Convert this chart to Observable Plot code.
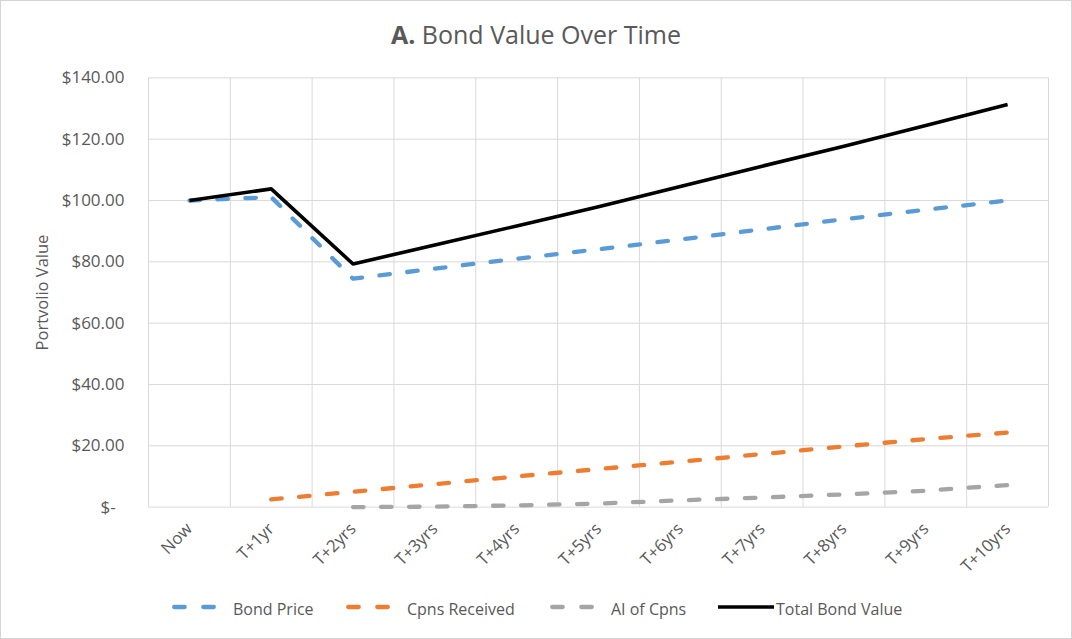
<!DOCTYPE html>
<html>
<head>
<meta charset="utf-8">
<script src="https://cdn.jsdelivr.net/npm/d3@7"></script>
<script src="https://cdn.jsdelivr.net/npm/@observablehq/plot@0.6"></script>
<style>
  body { margin: 0; background: #fff; }
  #wrap { position: relative; width: 1072px; height: 639px; font-family: "Open Sans", sans-serif; color: #595959; overflow: hidden; background: #fff; }
  #border { position: absolute; left: 0; top: 0; width: 1072px; height: 639px; box-sizing: border-box; border: 1px solid #d4d4d4; pointer-events: none; }
  #title { height: 60px; box-sizing: border-box; padding-top: 22px; font-size: 25px; line-height: 25px; text-align: center; white-space: nowrap; }
  #title b { font-weight: 700; }
  #chart svg { display: block; }
  #legend { position: relative; height: 54px; }
  .item { position: absolute; top: -3px; height: 54px; display: flex; align-items: center; font-size: 16px; white-space: nowrap; }
  .item svg { display: block; }
  .item span { line-height: 16px; }
</style>
</head>
<body>
<div id="wrap">
  <div id="title"><b>A.</b> Bond Value Over Time</div>
  <div id="chart"></div>
  <div id="legend"></div>
  <div id="border"></div>
</div>
<script>
// ---- data ----
const categories = ["Now", "T+1yr", "T+2yrs", "T+3yrs", "T+4yrs", "T+5yrs", "T+6yrs", "T+7yrs", "T+8yrs", "T+9yrs", "T+10yrs"];
const bondPrice    = [100, 101.1, 74.5, 77.8, 81.0, 84.1, 87.3, 90.6, 93.9, 97.0, 100.0];
const cpnsReceived = [null, 2.5, 5.0, 7.5, 10.0, 12.4, 14.8, 17.3, 19.8, 22.2, 24.3];
const aiOfCpns     = [null, null, 0.0, 0.15, 0.55, 1.15, 2.2, 3.1, 4.15, 5.35, 7.2];
const totalValue   = [100, 103.8, 79.3, 85.5, 91.7, 98.0, 104.6, 111.2, 117.7, 124.5, 131.3];
const seriesNames  = ["Bond Price", "Cpns Received", "AI of Cpns", "Total Bond Value"];
const yTicks = [0, 20, 40, 60, 80, 100, 120, 140];
const yLabel = "Portvolio Value";

// ---- styling ----
const colors = ["#5B9BD5", "#ED7D31", "#A5A5A5", "#000000"];
const dashed = [true, true, true, false];
const seriesValues = [bondPrice, cpnsReceived, aiOfCpns, totalValue];

const rows = (vals) => vals.map((v, i) => ({i, v})).filter(d => d.v != null);
const idx = categories.map((c, i) => i);
const bounds = categories.map((c, i) => i - 0.5).concat([categories.length - 0.5]);

const lineMarks = seriesValues.map((vals, k) => Plot.line(rows(vals), {
  x: "i", y: "v",
  stroke: colors[k],
  strokeWidth: dashed[k] ? 4.3 : 3.6,
  strokeDasharray: dashed[k] ? "10.5,17.5" : null,
  strokeLinecap: dashed[k] ? "round" : "butt",
  strokeLinejoin: "round",
  style: {filter: "drop-shadow(0px 1px 1px rgba(0,0,0,0.25))"}
}));

const plot = Plot.plot({
  width: 1072,
  height: 525,
  marginTop: 17.4,
  marginBottom: 78.4,
  marginLeft: 148,
  marginRight: 24,
  style: {fontFamily: "'Open Sans', sans-serif", color: "#595959", background: "transparent", overflow: "visible"},
  x: {type: "linear", domain: [-0.5, categories.length - 0.5]},
  y: {domain: [0, 140]},
  marks: [
    Plot.ruleY(yTicks, {stroke: "#d9d9d9", strokeWidth: 1}),
    Plot.ruleX(bounds, {stroke: "#d9d9d9", strokeWidth: 1}),
    Plot.axisY(yTicks, {
      tickFormat: d => d === 0 ? "$-\u00a0\u00a0" : "$" + d.toFixed(2),
      tickSize: 0, tickPadding: 24, fontSize: 17, label: null
    }),
    Plot.axisX(idx, {
      tickFormat: i => categories[i],
      tickRotate: -45, tickSize: 0, tickPadding: 19, fontSize: 16.8, label: null
    }),
    Plot.text([yLabel], {
      text: d => d, frameAnchor: "left", textAnchor: "middle", rotate: -90, dx: -106,
      fontSize: 16.5, fill: "#595959"
    }),
    ...lineMarks
  ]
});
document.getElementById("chart").appendChild(plot);

// ---- legend ----
const legendLeft = [172, 346, 550, 718];
const swatchW = [44, 44, 44, 56];
const gapW = [17, 17, 17, 2];
const legend = document.getElementById("legend");
seriesNames.forEach((name, k) => {
  const item = document.createElement("div");
  item.className = "item";
  item.style.left = legendLeft[k] + "px";
  const ns = "http://www.w3.org/2000/svg";
  const s = document.createElementNS(ns, "svg");
  s.setAttribute("width", swatchW[k]);
  s.setAttribute("height", 10);
  s.style.marginRight = gapW[k] + "px";
  s.style.marginTop = "-5px";
  const ln = document.createElementNS(ns, "line");
  if (dashed[k]) {
    ln.setAttribute("x1", 2.2); ln.setAttribute("x2", swatchW[k] - 2.2);
    ln.setAttribute("stroke-dasharray", "10.5,18.6");
    ln.setAttribute("stroke-linecap", "round");
    ln.setAttribute("stroke-width", 4.3);
  } else {
    ln.setAttribute("x1", 0); ln.setAttribute("x2", swatchW[k]);
    ln.setAttribute("stroke-width", 3.6);
  }
  ln.setAttribute("y1", 5); ln.setAttribute("y2", 5);
  ln.setAttribute("stroke", colors[k]);
  s.appendChild(ln);
  item.appendChild(s);
  const sp = document.createElement("span");
  sp.textContent = name;
  item.appendChild(sp);
  legend.appendChild(item);
});
</script>
</body>
</html>
